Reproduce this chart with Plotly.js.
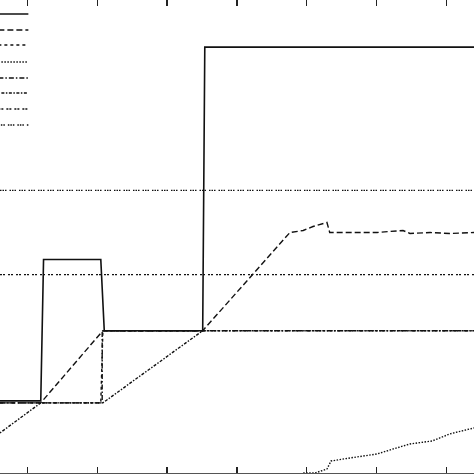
<!DOCTYPE html>
<html>
<head>
<meta charset="utf-8">
<script src="https://cdn.plot.ly/plotly-3.0.1.min.js"></script>
<style>
  html, body { margin: 0; padding: 0; background: #fff; }
  #myDiv { width: 474px; height: 474px; }
</style>
</head>
<body>
<div id="myDiv"></div>
<script>
// time axis (ticks every 10) and values
var stepX = [6.06, 11.9, 12.3, 20.5, 21.0, 35.1, 35.4, 74];
var stepY = [7.2, 7.2, 21.3, 21.3, 14.2, 14.2, 42.5, 42.5];

var fastX = [6.06, 11.9, 20.8, 35.1, 47.6, 49.5, 50.9, 52.2, 52.9, 53.3, 56.2, 60.1, 61.9, 63.8, 64.8, 67.7, 70.5, 74];
var fastY = [7.0, 7.0, 14.2, 14.2, 24.0, 24.2, 24.6, 24.9, 25.0, 24.0, 24.0, 24.0, 24.1, 24.2, 23.9, 24.0, 23.9, 24.0];

var holdX = [6.06, 20.5, 20.8, 35.1];
var holdY = [7.0, 7.0, 14.2, 14.2];

var errX = [49.5, 51.2, 52.9, 53.5, 56.2, 60.1, 62.4, 64.8, 68.0, 70.5, 74];
var errY = [0, 0, 0.4, 1.2, 1.5, 1.9, 2.4, 2.9, 3.2, 3.9, 4.5];

var jumpX = [6.06, 20.7, 20.7, 74];
var jumpY = [7.0, 7.0, 14.2, 14.2];

var slowX = [6.06, 11.9, 20.8, 35.1, 74];
var slowY = [4.0, 7.0, 7.0, 14.2, 14.2];

var limX = [6.06, 74];
var lowLim = [19.8, 19.8];
var highLim = [28.2, 28.2];

var dashes = ['solid', '6px,3px', '3px,3px', '1.5px,1.5px', '5px,2px,1.5px,2px', '1.5px,1.5px,3px,1.5px', '2px,1px,2px,3px', '1.5px,1px,1.5px,1px,1.5px,3px'];
var rowsPx = [14, 30, 45, 62, 78, 93, 109, 125];

function mk(x, y, i) {
  return {
    x: x, y: y,
    type: 'scatter', mode: 'lines',
    name: ' ',
    legend: i === 0 ? 'legend' : 'legend' + (i + 1),
    line: { color: '#111', width: i === 0 ? 1.6 : 1.4, dash: dashes[i] },
    hoverinfo: 'x+y'
  };
}

var data = [];
data.push(mk(stepX, stepY, 0));
data.push(mk(fastX, fastY, 1));
data.push(mk(holdX, holdY, 2));
data.push(mk(errX, errY, 3));
data.push(mk(jumpX, jumpY, 4));
data.push(mk(slowX, slowY, 5));
data.push(mk(limX, lowLim, 6));
data.push(mk(limX, highLim, 7));
// invisible twin on the top axis just to carry the mirrored ticks
data.push({ x: limX, y: lowLim, xaxis: 'x2', type: 'scatter', mode: 'none', showlegend: false, hoverinfo: 'skip' });

var layout = {
  width: 474,
  height: 474,
  margin: { l: 0, r: 0, t: 0, b: 1, autoexpand: false },
  paper_bgcolor: '#fff',
  plot_bgcolor: '#fff',
  showlegend: true,
  xaxis: {
    range: [6.06, 73.97],
    tickmode: 'linear', tick0: 10, dtick: 10,
    ticks: 'inside', ticklen: 6, tickwidth: 1.5, tickcolor: '#222',
    showticklabels: false,
    showgrid: false, zeroline: false,
    showline: true, linecolor: '#555', linewidth: 2
  },
  xaxis2: {
    overlaying: 'x', side: 'top', matches: 'x',
    tickmode: 'linear', tick0: 10, dtick: 10,
    ticks: 'inside', ticklen: 6, tickwidth: 1.5, tickcolor: '#222',
    showticklabels: false,
    showgrid: false, zeroline: false, showline: false
  },
  yaxis: {
    range: [0, 47.2],
    showticklabels: false, ticks: '',
    showgrid: false, zeroline: false, showline: false
  }
};

for (let i = 0; i < rowsPx.length; i++) {
  let key = i === 0 ? 'legend' : 'legend' + (i + 1);
  layout[key] = {
    x: -0.014, xanchor: 'left',
    y: 1 - rowsPx[i] / 473, yanchor: 'middle',
    bgcolor: 'rgba(0,0,0,0)', borderwidth: 0,
    itemwidth: 30,
    font: { size: 10 }
  };
}

Plotly.newPlot('myDiv', data, layout, { staticPlot: true });
</script>
</body>
</html>
